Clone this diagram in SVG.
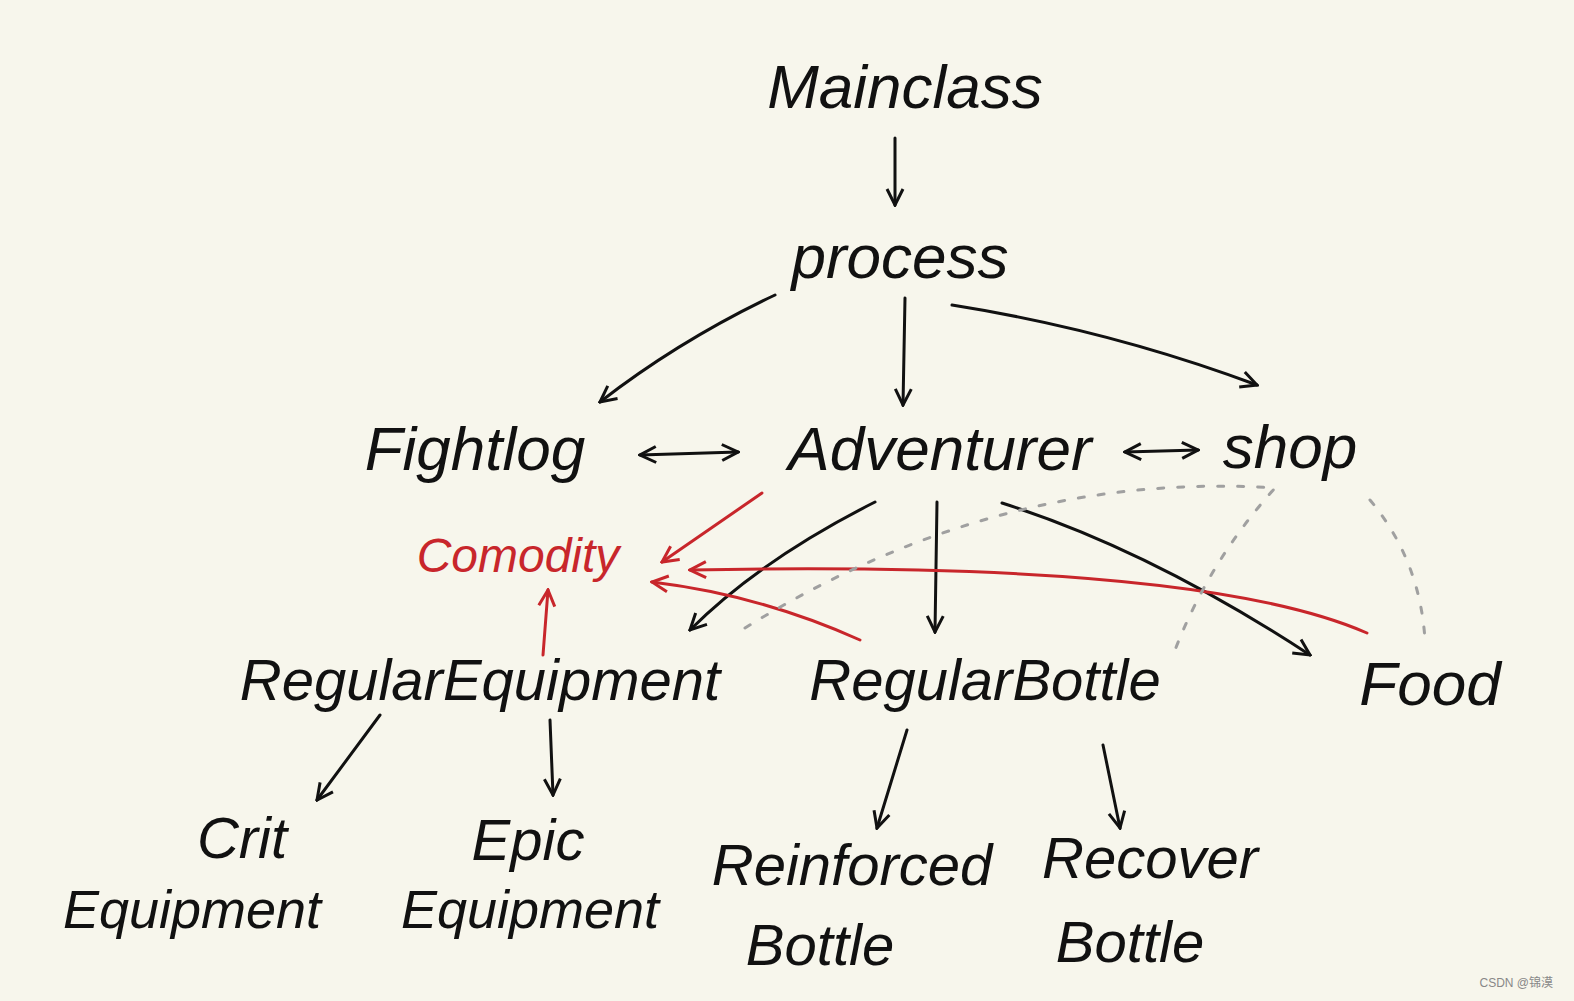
<svg xmlns="http://www.w3.org/2000/svg" width="1574" height="1001" viewBox="0 0 1574 1001">
<style>
.t{font-family:"Liberation Sans",sans-serif;font-style:italic;fill:#111;text-anchor:middle}
.r{fill:#c8262b}
.c{fill:none;stroke:#111;stroke-width:3;stroke-linecap:round}
.cr{fill:none;stroke:#c8262b;stroke-width:3;stroke-linecap:round}
.d{fill:none;stroke:#a0a0a0;stroke-width:3;stroke-dasharray:6 14;stroke-linecap:round}
</style>
<defs>
<marker id="a" viewBox="0 0 20 20" refX="18" refY="10" markerWidth="20" markerHeight="20" markerUnits="userSpaceOnUse" orient="auto-start-reverse"><path d="M2,2 L18,10 L2,18" fill="none" stroke="#111" stroke-width="3"/></marker>
<marker id="ar" viewBox="0 0 20 20" refX="18" refY="10" markerWidth="20" markerHeight="20" markerUnits="userSpaceOnUse" orient="auto-start-reverse"><path d="M2,2 L18,10 L2,18" fill="none" stroke="#c8262b" stroke-width="3"/></marker>
</defs>
<rect width="1574" height="1001" fill="#f7f6ec"/>
<g id="connectors">
<path class="c" marker-end="url(#a)" d="M895,138 L895,205"/>
<path class="c" marker-end="url(#a)" d="M775,295 Q680,340 600,402"/>
<path class="c" marker-end="url(#a)" d="M905,298 L903,405"/>
<path class="c" marker-end="url(#a)" d="M952,305 Q1110,330 1257,385"/>
<path class="c" marker-start="url(#a)" marker-end="url(#a)" d="M640,455 L738,452"/>
<path class="c" marker-start="url(#a)" marker-end="url(#a)" d="M1125,452 L1198,450"/>
<path class="c" marker-end="url(#a)" d="M875,502 Q760,560 690,630"/>
<path class="c" marker-end="url(#a)" d="M937,502 L935,632"/>
<path class="c" marker-end="url(#a)" d="M1002,503 Q1150,550 1310,655"/>
<path class="c" marker-end="url(#a)" d="M380,715 L317,800"/>
<path class="c" marker-end="url(#a)" d="M550,720 L553,795"/>
<path class="c" marker-end="url(#a)" d="M907,730 L877,828"/>
<path class="c" marker-end="url(#a)" d="M1103,745 L1120,828"/>
<path class="cr" marker-end="url(#ar)" d="M762,493 L662,562"/>
<path class="cr" marker-end="url(#ar)" d="M1367,633 Q1200,560 690,570"/>
<path class="cr" marker-end="url(#ar)" d="M860,640 Q760,595 652,582"/>
<path class="cr" marker-end="url(#ar)" d="M543,655 L548,590"/>
<path class="d" d="M745,628 Q1000,470 1275,488 Q1210,560 1175,650"/>
<path class="d" d="M1370,500 Q1420,560 1425,640"/>
</g>
<g id="mainclass"><text class="t" x="905" y="108" font-size="62">Mainclass</text></g>
<g id="process"><text class="t" x="900" y="278" font-size="62">process</text></g>
<g id="fightlog"><text class="t" x="475" y="470" font-size="62">Fightlog</text></g>
<g id="adventurer"><text class="t" x="940" y="470" font-size="62">Adventurer</text></g>
<g id="shop"><text class="t" x="1290" y="468" font-size="62">shop</text></g>
<g id="comodity"><text class="t r" x="518" y="572" font-size="48">Comodity</text></g>
<g id="regularequipment"><text class="t" x="480" y="700" font-size="58">RegularEquipment</text></g>
<g id="regularbottle"><text class="t" x="985" y="700" font-size="58">RegularBottle</text></g>
<g id="food"><text class="t" x="1430" y="705" font-size="62">Food</text></g>
<g id="crit"><text class="t" x="242" y="858" font-size="58">Crit</text><text class="t" x="192" y="928" font-size="54">Equipment</text></g>
<g id="epic"><text class="t" x="528" y="860" font-size="58">Epic</text><text class="t" x="530" y="928" font-size="54">Equipment</text></g>
<g id="reinforced"><text class="t" x="852" y="885" font-size="58">Reinforced</text><text class="t" x="820" y="965" font-size="58">Bottle</text></g>
<g id="recover"><text class="t" x="1150" y="878" font-size="58">Recover</text><text class="t" x="1130" y="962" font-size="58">Bottle</text></g>
<text x="1553" y="987" font-family="'Liberation Sans','Noto Sans CJK SC',sans-serif" font-size="12" fill="#888" text-anchor="end">CSDN @锦漠</text>
</svg>
